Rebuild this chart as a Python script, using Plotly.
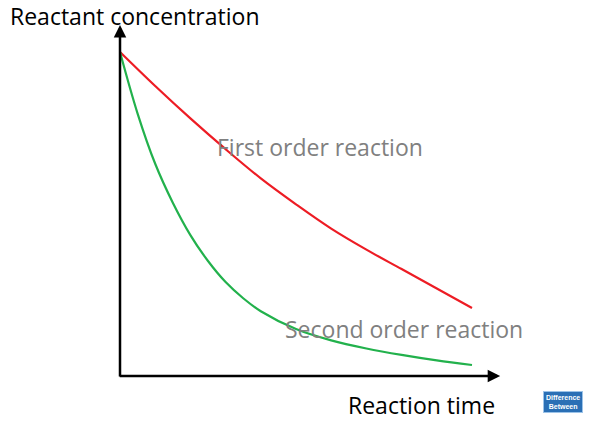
import plotly.graph_objects as go

t_red = [0, 1, 2, 3, 4, 5, 6, 7, 8, 9, 10]
c_red = [1.0, 0.895, 0.795, 0.70, 0.61, 0.53, 0.455, 0.39, 0.33, 0.27, 0.21]
t_green = [0, 0.5, 1, 1.5, 2, 2.5, 3, 3.5, 4, 5, 6, 7, 8, 9, 10]
c_green = [1.0, 0.81, 0.655, 0.535, 0.435, 0.355, 0.29, 0.24, 0.20, 0.145, 0.11, 0.085, 0.065, 0.048, 0.034]

OFF = 8
W, H = 607 - 2 * OFF, 425 - 2 * OFF

def px(x): return (x - OFF) / W
def py(y): return 1 - (y - OFF) / H

fig = go.Figure()
fig.add_trace(go.Scatter(x=t_red, y=c_red, mode="lines", line=dict(color="#ed1c24", width=2.2, shape="spline")))
fig.add_trace(go.Scatter(x=t_green, y=c_green, mode="lines", line=dict(color="#22b14c", width=2.2, shape="spline")))

ann = [
    dict(x=0, y=1.083, ax=0, ay=-0.006, xref="x", yref="y", axref="x", ayref="y",
         showarrow=True, arrowhead=2, arrowwidth=2.5, arrowsize=1.0, arrowcolor="black", text=""),
    dict(x=10.8, y=0.0, ax=-0.05, ay=0.0, xref="x", yref="y", axref="x", ayref="y",
         showarrow=True, arrowhead=2, arrowwidth=2.5, arrowsize=1.0, arrowcolor="black", text=""),
    dict(x=px(8), y=py(-2), xref="paper", yref="paper", xanchor="left", yanchor="top",
         text="Reactant concentration", showarrow=False, font=dict(size=23, color="black", family="Open Sans")),
    dict(x=px(346), y=py(405), xref="paper", yref="paper", xanchor="left", yanchor="middle",
         text="Reaction time", showarrow=False, font=dict(size=23, color="black", family="Open Sans")),
    dict(x=px(215), y=py(147), xref="paper", yref="paper", xanchor="left", yanchor="middle",
         text="First order reaction", showarrow=False, font=dict(size=23, color="#808080", family="Open Sans")),
    dict(x=px(283), y=py(329), xref="paper", yref="paper", xanchor="left", yanchor="middle",
         text="Second order reaction", showarrow=False, font=dict(size=23, color="#808080", family="Open Sans")),
    dict(x=px(563), y=py(402), xref="paper", yref="paper", xanchor="center", yanchor="middle",
         text="<b>Difference<br>Between</b>", showarrow=False, bgcolor="#2a6fb5",
         bordercolor="#9cc3e8", borderwidth=1, borderpad=2,
         font=dict(size=7, color="white", family="Liberation Sans")),
]

sx = 35.2
sy = 324
fig.update_layout(
    width=W, height=H, margin=dict(l=0, r=0, t=0, b=0),
    paper_bgcolor="white", plot_bgcolor="white", showlegend=False,
    xaxis=dict(range=[-(120 - OFF) / sx, (W - (120 - OFF)) / sx], visible=False, fixedrange=True),
    yaxis=dict(range=[-(H - (376 - OFF)) / sy, 1 + (52 - OFF) / sy], visible=False, fixedrange=True),
    annotations=ann,
)
fig.write_html("out.html")
